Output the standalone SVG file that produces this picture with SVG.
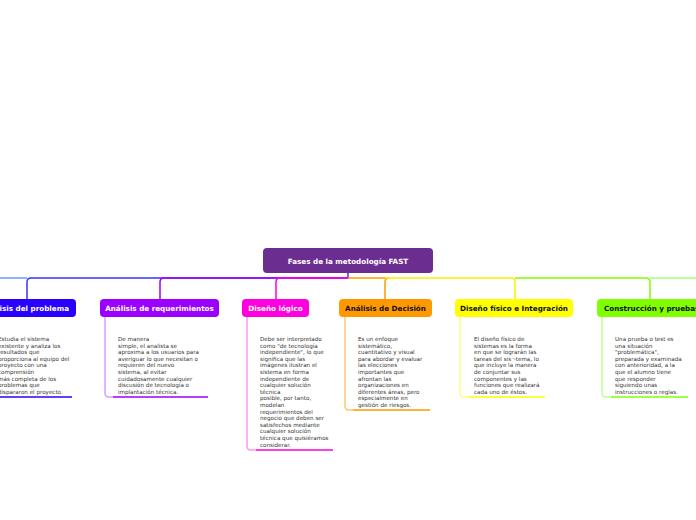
<svg xmlns="http://www.w3.org/2000/svg" width="696" height="520" viewBox="0 0 696 520">
<style>
.t{font-family:Verdana,"DejaVu Sans",sans-serif;font-size:7.2px;font-weight:bold}
.d{font-family:Verdana,"DejaVu Sans",sans-serif;font-size:5.6px;fill:#333}
.c{fill:none;stroke-width:1.5}
</style>
<rect width="696" height="520" fill="#fff"/>
<g id="connectors">
<path class="c" stroke="#6a9bff" d="M0 278 H27"/>
<path class="c" stroke="#3a30ff" d="M348 273 V278 H31 Q27 278 27 282 V299"/>
<path class="c" stroke="#9b00ff" d="M348 278 H164 Q160 278 160 282 V299"/>
<path class="c" stroke="#ff00e0" d="M348 278 H280 Q276 278 276 282 V299"/>
<path class="c" stroke="#ff9900" d="M348 278 H389 Q385 278 385 282 V299"/>
<path class="c" stroke="#ffee00" d="M385 278 H511 Q515 278 515 282 V299"/>
<path class="c" stroke="#80ff00" d="M515 278 H646 Q650 278 650 282 V299"/>
<path class="c" stroke="#a0ff80" d="M650 278 H696"/>
<path class="c" stroke="#2a00ff" d="M-10 397 H72" stroke-width="3"/>
<path class="c" stroke="#d9a0ff" d="M105 317 V393 Q105 397 109 397 H113"/>
<path class="c" stroke="#9b00ff" stroke-width="3" d="M113 397 H208"/>
<path class="c" stroke="#ff99f0" d="M247 317 V446 Q247 450 251 450 H256"/>
<path class="c" stroke="#ff00e0" stroke-width="3" d="M256 450 H333"/>
<path class="c" stroke="#ffc870" d="M345 317 V406 Q345 410 349 410 H353"/>
<path class="c" stroke="#ff9900" stroke-width="3" d="M353 410 H430"/>
<path class="c" stroke="#ffff80" d="M460 317 V393 Q460 397 464 397 H469"/>
<path class="c" stroke="#ffff00" stroke-width="3" d="M469 397 H545"/>
<path class="c" stroke="#c0ff90" d="M602 317 V393 Q602 397 606 397 H611"/>
<path class="c" stroke="#80ff00" stroke-width="3" d="M611 397 H688"/>
</g>
<g id="central"><rect x="263" y="248" width="170" height="25" rx="4" fill="#6b2d8f"/><text class="t" x="348" y="264" text-anchor="middle" fill="#fff" font-size="8.5">Fases de la metodología FAST</text></g>
<g id="n1"><rect x="-10" y="299" width="86" height="18" rx="4" fill="#2a00ff"/><text class="t" x="69" y="311" text-anchor="end" fill="#fff">Análisis del problema</text>
<text class="d" x="-2" y="341"><tspan x="-2">Estudia el sistema</tspan><tspan x="-2" dy="6.6">existente y analiza los</tspan><tspan x="-2" dy="6.6">resultados que</tspan><tspan x="-2" dy="6.6">proporciona al equipo del</tspan><tspan x="-2" dy="6.6">proyecto con una</tspan><tspan x="-2" dy="6.6">comprensión</tspan><tspan x="-2" dy="6.6">más completa de los</tspan><tspan x="-2" dy="6.6">problemas que</tspan><tspan x="-2" dy="6.6">dispararon el proyecto.</tspan></text></g>
<g id="n2"><rect x="100" y="299" width="119" height="18" rx="4" fill="#9b00ff"/><text class="t" x="159.5" y="311" text-anchor="middle" fill="#fff">Análisis de requerimientos</text>
<text class="d"><tspan x="118" y="341">De manera</tspan><tspan x="118" dy="6.6">simple, el analista se</tspan><tspan x="118" dy="6.6">aproxima a los usuarios para</tspan><tspan x="118" dy="6.6">averiguar lo que necesitan o</tspan><tspan x="118" dy="6.6">requieren del nuevo</tspan><tspan x="118" dy="6.6">sistema, al evitar</tspan><tspan x="118" dy="6.6">cuidadosamente cualquier</tspan><tspan x="118" dy="6.6">discusión de tecnología o</tspan><tspan x="118" dy="6.6">implantación técnica.</tspan></text></g>
<g id="n3"><rect x="242" y="299" width="67" height="18" rx="4" fill="#ff00e0"/><text class="t" x="275.5" y="311" text-anchor="middle" fill="#fff">Diseño lógico</text>
<text class="d"><tspan x="260" y="341">Debe ser interpretado</tspan><tspan x="260" dy="6.6">como "de tecnología</tspan><tspan x="260" dy="6.6">independiente", lo que</tspan><tspan x="260" dy="6.6">significa que las</tspan><tspan x="260" dy="6.6">imágenes ilustran el</tspan><tspan x="260" dy="6.6">sistema en forma</tspan><tspan x="260" dy="6.6">independiente de</tspan><tspan x="260" dy="6.6">cualquier solución</tspan><tspan x="260" dy="6.6">técnica</tspan><tspan x="260" dy="6.6">posible, por tanto,</tspan><tspan x="260" dy="6.6">modelan</tspan><tspan x="260" dy="6.6">requerimientos del</tspan><tspan x="260" dy="6.6">negocio que deben ser</tspan><tspan x="260" dy="6.6">satisfechos mediante</tspan><tspan x="260" dy="6.6">cualquier solución</tspan><tspan x="260" dy="6.6">técnica que quisiéramos</tspan><tspan x="260" dy="6.6">considerar.</tspan></text></g>
<g id="n4"><rect x="339" y="299" width="93" height="18" rx="4" fill="#ff9900"/><text class="t" x="385.5" y="311" text-anchor="middle" fill="#111">Análisis de Decisión</text>
<text class="d"><tspan x="358" y="341">Es un enfoque</tspan><tspan x="358" dy="6.6">sistemático,</tspan><tspan x="358" dy="6.6">cuantitativo y visual</tspan><tspan x="358" dy="6.6">para abordar y evaluar</tspan><tspan x="358" dy="6.6">las elecciones</tspan><tspan x="358" dy="6.6">importantes que</tspan><tspan x="358" dy="6.6">afrontan las</tspan><tspan x="358" dy="6.6">organizaciones en</tspan><tspan x="358" dy="6.6">diferentes áreas, pero</tspan><tspan x="358" dy="6.6">especialmente en</tspan><tspan x="358" dy="6.6">gestión de riesgos.</tspan></text></g>
<g id="n5"><rect x="455" y="299" width="118" height="18" rx="4" fill="#ffff00"/><text class="t" x="514" y="311" text-anchor="middle" fill="#111">Diseño físico e Integración</text>
<text class="d"><tspan x="474" y="341">El diseño físico de</tspan><tspan x="474" dy="6.6">sistemas es la forma</tspan><tspan x="474" dy="6.6">en que se lograrán las</tspan><tspan x="474" dy="6.6">tareas del sis¬tema, lo</tspan><tspan x="474" dy="6.6">que incluye la manera</tspan><tspan x="474" dy="6.6">de conjuntar sus</tspan><tspan x="474" dy="6.6">componentes y las</tspan><tspan x="474" dy="6.6">funciones que realizará</tspan><tspan x="474" dy="6.6">cada uno de éstos.</tspan></text></g>
<g id="n6"><rect x="597" y="299" width="110" height="18" rx="4" fill="#80ff00"/><text class="t" x="604" y="311" fill="#111">Construcción y pruebas</text>
<text class="d"><tspan x="615" y="341">Una prueba o test es</tspan><tspan x="615" dy="6.6">una situación</tspan><tspan x="615" dy="6.6">"problemática",</tspan><tspan x="615" dy="6.6">preparada y examinada</tspan><tspan x="615" dy="6.6">con anterioridad, a la</tspan><tspan x="615" dy="6.6">que el alumno tiene</tspan><tspan x="615" dy="6.6">que responder</tspan><tspan x="615" dy="6.6">siguiendo unas</tspan><tspan x="615" dy="6.6">instrucciones o reglas.</tspan></text></g>
</svg>
